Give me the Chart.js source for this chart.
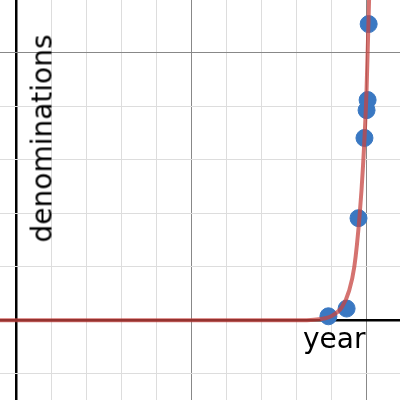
<!DOCTYPE html>
<html><head><meta charset="utf-8">
<script src="https://cdn.jsdelivr.net/npm/chart.js@4"></script>
<style>html,body{margin:0;padding:0;background:#fff;overflow:hidden}#w{position:relative;width:400px;height:400px;overflow:hidden}
#c{position:absolute;left:-10px;top:-10px}
.l{position:absolute;font-family:"DejaVu Sans",sans-serif;font-size:28px;color:#000;white-space:nowrap}</style>
</head><body><div id="w"><canvas id="c" width="420" height="420"></canvas>
<div class="l" style="left:303px;top:322px">year</div>
<div class="l" style="left:-58px;top:126px;transform:rotate(-90deg);transform-origin:center;width:200px;text-align:center">denominations</div>
</div>
<script>
const pointX=[8.91,9.43,9.77,9.94,10.0,10.03,10.06];
const pointY=[0.075,0.22,1.91,3.41,3.93,4.12,5.54];
const curveX=[-0.5,8.0,8.5,9.0,9.3,9.5,9.65,9.8,9.9,10.0,10.08];
const curveY=[0,0,0.01,0.08,0.25,0.55,1.0,1.95,2.9,4.3,6.2];
const gridColor=c=>c.tick.value===0?'#000':(c.tick.value%5===0?'#888':'#ddd');
const gridWidth=c=>c.tick.value===0?2.5:1;
const intTicks=s=>{const t=[];for(let v=Math.ceil(s.min);v<=Math.floor(s.max);v++)t.push({value:v});s.ticks=t;};
new Chart(document.getElementById('c'),{
 type:'scatter',
 data:{datasets:[
  {type:'line',data:curveX.map((x,i)=>({x,y:curveY[i]})),borderColor:'rgba(199,68,64,0.75)',borderWidth:4,pointRadius:0,cubicInterpolationMode:'monotone',fill:false},
  {data:pointX.map((x,i)=>({x,y:pointY[i]})),backgroundColor:'#3a78c2',borderColor:'#3a78c2',pointRadius:8.5}
 ]},
 options:{responsive:false,animation:false,layout:{padding:0},
  plugins:{legend:{display:false},tooltip:{enabled:false}},
  scales:{
   x:{type:'linear',min:-0.49,max:10.97,afterBuildTicks:intTicks,ticks:{display:false},border:{display:false},grid:{color:gridColor,lineWidth:gridWidth,drawTicks:false,z:-1}},
   y:{type:'linear',min:-1.5,max:6,afterBuildTicks:intTicks,ticks:{display:false},border:{display:false},grid:{color:gridColor,lineWidth:gridWidth,drawTicks:false,z:-1}}
  }}
});
</script></body></html>
